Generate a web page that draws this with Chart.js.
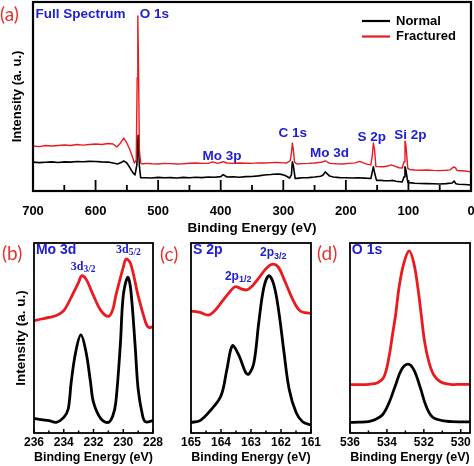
<!DOCTYPE html>
<html>
<head>
<meta charset="utf-8">
<script src="https://cdn.jsdelivr.net/npm/chart.js@4.4.1/dist/chart.umd.min.js"></script>
<style>
  body { margin: 0; background: #fff; }
  #wrap { position: relative; width: 474px; height: 466px; overflow: hidden; }
  canvas { position: absolute; }
</style>
</head>
<body>
<div id="wrap">
  <canvas id="survey" width="474" height="236" style="left:0;top:0"></canvas>
  <canvas id="mo3d" width="170" height="230" style="left:0;top:235px"></canvas>
  <canvas id="s2p" width="170" height="230" style="left:156px;top:235px"></canvas>
  <canvas id="o1s" width="160" height="230" style="left:314px;top:235px"></canvas>
</div>
<script>
// ---- (a) full survey spectrum ----
const surveyNormalEV = [700,690,680,670,660,650,640,630,620,610,600,590,580,570,565,560,555,550,545,540,537,534,532,530,528,520,510,500,490,480,470,460,450,440,430,420,410,400,396,390,380,370,360,350,340,330,320,310,303,297,290,287,285.5,284,281,275,270,260,250,240,236,233,230,226,220,210,200,190,180,170,160,157.5,156,154,151,145,140,130,125,120,110,107,105.5,104,101,95,90,80,70,60,50,40,30,27,24,20,10,0];
const surveyNormal = [15.3,15.0,15.2,15.4,15.1,15.4,15.3,15.6,15.5,15.7,15.6,15.4,15.3,14.7,14.3,14.9,15.9,14.8,12.2,9.5,8.5,13.8,29.5,13.5,7.1,7.0,6.9,7.2,7.0,7.1,6.9,7.2,7.0,7.3,7.1,7.4,7.3,7.6,8.7,7.4,7.5,7.3,7.6,7.7,8.0,8.5,8.7,9.0,8.8,8.2,6.9,8.5,15.5,13.5,6.6,6.8,7.0,7.1,7.4,7.8,8.6,10.1,9.2,7.9,7.4,7.1,7.0,6.9,7.0,6.8,6.6,10.5,12.8,9.5,5.6,5.7,5.5,5.4,5.6,5.2,4.8,7.5,12.8,11.0,4.5,4.3,4.1,4.0,3.9,3.8,3.7,3.9,4.2,5.3,3.8,3.6,3.4,3.2];
const surveyFracEV = [700,690,680,670,660,650,640,630,620,610,600,590,580,572,566,560,555,550,545,541,538,535,533.5,532.5,531.5,530,528,525,520,510,500,490,480,470,460,450,440,430,420,413,405,396,390,380,370,360,350,340,330,320,310,300,295,289,287,285.5,284,282,278,270,260,250,240,236,233,229,225,215,205,195,185,178,172,165,160,157.5,156,154,152,148,140,133,128,122,115,110,107,105.5,104,101,98,90,80,70,60,50,40,33,28,25,22,15,10,0];
const surveyFrac = [23.8,23.5,24.1,23.8,24.1,24.3,24.1,24.6,24.3,24.6,24.9,24.6,25.1,24.9,23.3,25.4,28.0,25.4,21.7,18.0,14.8,16.4,60,92.6,70,22,14.8,14.3,14.6,14.4,14.3,14.6,14.5,14.3,14.4,14.7,14.8,14.6,14.6,15.4,14.6,15.5,14.8,14.6,14.8,14.7,14.6,14.9,14.8,15.0,15.1,14.9,14.8,16.0,20,25.4,22.0,15.3,14.3,14.5,14.6,14.8,15.2,15.5,16.0,15.2,14.6,14.4,14.3,14.6,14.9,15.7,14.9,14.1,13.8,19.5,25.4,21.5,13.0,12.9,12.8,13.2,13.8,13.2,12.3,12.2,15.5,26.5,24.0,12.0,11.4,11.1,11.0,11.1,10.9,10.8,11.0,11.2,12.7,12.4,10.8,10.7,10.6,10.1];
const surveyTicks = [0,50,100,150,200,250,300,350,400,450,500,550,600,650,700];
const surveyLabels = [0,100,200,300,400,500,600,700];

// ---- (b) Mo 3d ----
const moNormalEV = [236,235.5,235,234.5,234,233.7,233.5,233.2,232.85,232.5,232.2,232,231.5,231,230.7,230.5,230.2,230,229.7,229.5,229.2,229,228.7,228.5,228];
const moNormal = [7.7,7.0,6.5,5.6,8.2,12.6,26.7,42.5,51.6,42.5,26.7,16.1,7.4,5.6,9.1,16.1,45.9,72.3,81.9,75.8,45.9,23.2,9.1,5.9,6.5];
const moFracEV = [236,235.5,235,234.5,234,233.5,233,232.8,232.5,232,231.5,231,230.7,230.5,230,229.8,229.5,229,228.5,228.3,228];
const moFrac = [59.1,60,60.8,61.8,64.4,71.4,79.3,82.8,81,72.3,64.4,61.4,65,72.3,87.2,91.6,89,72.3,58.3,55.6,56];
const moTicks = [228,229,230,231,232,233,234,235,236];
const moLabels = [228,230,232,234,236];

// ---- (c) S 2p ----
const sNormalEV = [165,164.7,164.36,164,163.8,163.62,163.4,163.18,163.07,162.9,162.74,162.57,162.4,162.23,162.07,161.9,161.73,161.5,161.28,161];
const sNormal = [5.6,6.5,11.7,19.6,33.7,45.9,40.7,31.9,31,37.2,58.3,76.7,82.8,77.5,63.5,42.5,23.2,10.9,5.9,4.2];
const sFracEV = [165,164.7,164.42,164.2,163.97,163.75,163.53,163.35,163.14,162.95,162.75,162.5,162.3,162.1,161.9,161.7,161.5,161.36,161.2,161];
const sFrac = [64.2,63.5,62.1,64.5,69.1,73.5,77,76,75.3,77.5,81.4,86.5,88.8,87.5,81,73.5,67,64.2,63.3,63];
const sTicks = [161,161.5,162,162.5,163,163.5,164,164.5,165];
const sLabels = [161,162,163,164,165];

// ---- (d) O 1s ----
const oNormalEV = [536,535.5,535,534.7,534.25,533.9,533.53,533.22,532.86,532.54,532.18,531.9,531.55,531,530.5,530,529.5];
const oNormal = [5.6,5.7,6.0,6.8,9.5,15.6,25.3,33.2,36.2,33.2,23.5,14.7,8.6,6.5,6.0,5.9,5.9];
const oFracEV = [536,535.5,535,534.5,534.16,533.9,533.7,533.53,533.35,533.11,532.8,532.54,532.32,532.14,531.96,531.73,531.46,531.1,530.56,530,529.5];
const oFrac = [25.5,25.5,25.6,26.5,29.6,39.3,51.6,62.1,76.2,88.4,95.8,89.3,76.2,62.1,48.1,37.5,30.5,27,25.6,25.6,25.6];
const oTicks = [530,531,532,533,534,535,536];
const oLabels = [530,532,534,536];

const SANS = '"Liberation Sans", Arial, sans-serif';
const SERIF = '"Liberation Serif", "Times New Roman", serif';
const BLUE = '#2020d2';
const RED = '#ea1a1f';
const TAG_RED = '#e8312f';

Chart.defaults.font.family = SANS;
Chart.defaults.color = '#000';

function pts(xs, ys) {
    return xs.map((x, i) => ({ x: x, y: ys[i] }));
}

function noPad(s) {
    s.paddingLeft = 0; s.paddingRight = 0; s.paddingTop = 0; s.paddingBottom = 0;
}

// height = fixed axis band under the plot (labels + title)
function xAxis(min, max, tickVals, labelVals, tickSize, titleSize, tickPad, height) {
    return {
        type: 'linear', reverse: true, min: min, max: max,
        afterBuildTicks: (s) => { s.ticks = tickVals.map(v => ({ value: v })); },
        afterFit: (s) => { s.height = height; noPad(s); },
        ticks: {
            autoSkip: false, maxRotation: 0, padding: tickPad, color: '#000',
            font: { size: tickSize, weight: 'bold' },
            callback: (v) => labelVals.includes(v) ? String(v) : ''
        },
        grid: { display: false, drawTicks: false },
        border: { display: false },
        title: { display: true, text: 'Binding Energy (eV)', color: '#000',
                 font: { size: titleSize, weight: 'bold' }, padding: { top: 0, bottom: 0 } }
    };
}

function yAxis(showTitle, size, pad, width) {
    return {
        min: 0, max: 100, display: showTitle,
        afterFit: (s) => { s.width = width; noPad(s); },
        ticks: { display: false },
        grid: { display: false, drawTicks: false },
        border: { display: false },
        title: { display: showTitle, text: 'Intensity (a. u.)', color: '#000',
                 font: { size: size, weight: 'bold' }, padding: pad }
    };
}

// frame, inner tick marks, panel tag, peak notes and legend
function overlay(cfg) {
    return {
        id: 'overlay',
        afterDatasetsDraw(chart) {
            const { ctx, chartArea: a, scales: { x, y } } = chart;
            ctx.save();
            ctx.strokeStyle = '#000';
            ctx.lineWidth = cfg.tickWidth;
            x.ticks.forEach(t => {
                const px = x.getPixelForValue(t.value);
                const len = t.label !== '' ? cfg.major : cfg.minor;
                ctx.beginPath();
                ctx.moveTo(px, a.bottom);
                ctx.lineTo(px, a.bottom - len);
                ctx.stroke();
            });
            ctx.lineWidth = cfg.frame;
            ctx.strokeRect(a.left, a.top, a.width, a.height);

            ctx.textBaseline = 'middle';
            ctx.textAlign = 'left';
            ctx.fillStyle = TAG_RED;
            ctx.font = '19px Lato';
            ctx.fillText(cfg.tag, cfg.tagX, cfg.tagY);

            cfg.notes.forEach(n => {
                let px = x.getPixelForValue(n.x);
                const py = y.getPixelForValue(n.y);
                ctx.fillStyle = BLUE;
                ctx.font = n.font;
                const w = ctx.measureText(n.text).width;
                let sw = 0;
                if (n.sub) {
                    ctx.font = n.subFont;
                    sw = ctx.measureText(n.sub).width;
                    ctx.font = n.font;
                }
                if (n.align === 'center') px -= (w + sw) / 2;
                ctx.fillText(n.text, px, py);
                if (n.sub) {
                    ctx.font = n.subFont;
                    ctx.fillText(n.sub, px + w, py + 3);
                }
            });

            if (cfg.legend) {
                const L = cfg.legend;
                ctx.font = 'bold 13px ' + SANS;
                chart.data.datasets.forEach((ds, i) => {
                    const ly = L.y + i * L.row;
                    ctx.strokeStyle = ds.borderColor;
                    ctx.lineWidth = L.width;
                    ctx.beginPath();
                    ctx.moveTo(L.x, ly);
                    ctx.lineTo(L.x + L.len, ly);
                    ctx.stroke();
                    ctx.fillStyle = '#000';
                    ctx.fillText(ds.label, L.x + L.len + L.gap, ly);
                });
            }
            ctx.restore();
        }
    };
}

function baseOptions(pad, xs, ys, tension) {
    return {
        responsive: false,
        animation: false,
        layout: { padding: pad },
        elements: { point: { radius: 0 }, line: { tension: tension, borderJoinStyle: 'round', borderCapStyle: 'round' } },
        plugins: { legend: { display: false }, tooltip: { enabled: false } },
        scales: { x: xs, y: ys }
    };
}

const topNote = 'bold 13.5px ' + SANS;
const botNote = 'bold 14px ' + SANS;

// (a)
new Chart(document.getElementById('survey'), {
    type: 'line',
    data: { datasets: [
        { label: 'Normal', data: pts(surveyNormalEV, surveyNormal), borderColor: '#000', borderWidth: 1.6, order: 1 },
        { label: 'Fractured', data: pts(surveyFracEV, surveyFrac), borderColor: RED, borderWidth: 1.4, order: 0 }
    ]},
    options: baseOptions({ left: 4, right: 3, top: 2, bottom: 0 },
        xAxis(0, 700, surveyTicks, surveyLabels, 13, 13.5, 13, 45),
        yAxis(true, 13, { top: 5.2, bottom: 8.2 }, 29), 0),
    plugins: [overlay({
        tickWidth: 1.8, major: 11, minor: 6, frame: 2.2,
        tag: '(a)', tagX: 0, tagY: 15,
        legend: { x: 362, y: 21, len: 28, gap: 6, row: 15.5, width: 2.2 },
        notes: [
            { x: 624, y: 93.7, text: 'Full Spectrum', font: topNote, align: 'center' },
            { x: 506, y: 93.7, text: 'O 1s', font: topNote, align: 'center' },
            { x: 398, y: 18.5, text: 'Mo 3p', font: topNote, align: 'center' },
            { x: 285, y: 30.7, text: 'C 1s', font: topNote, align: 'center' },
            { x: 226, y: 20.1, text: 'Mo 3d', font: topNote, align: 'center' },
            { x: 158.6, y: 28.6, text: 'S 2p', font: topNote, align: 'center' },
            { x: 97, y: 29.6, text: 'Si 2p', font: topNote, align: 'center' }
        ]
    })]
});

// (b)
new Chart(document.getElementById('mo3d'), {
    type: 'line',
    data: { datasets: [
        { label: 'Normal', data: pts(moNormalEV, moNormal), borderColor: '#000', borderWidth: 2.8, order: 1 },
        { label: 'Fractured', data: pts(moFracEV, moFrac), borderColor: RED, borderWidth: 2.8, order: 0 }
    ]},
    options: baseOptions({ left: 5, right: 17, top: 8, bottom: 0 },
        xAxis(228, 236, moTicks, moLabels, 12, 12.5, 2, 32),
        yAxis(true, 13.5, { top: 8.4, bottom: 4.4 }, 29), 0.35),
    plugins: [overlay({
        tickWidth: 1.5, major: 4, minor: 2.5, frame: 1.8,
        tag: '(b)', tagX: 2, tagY: 19,
        notes: [
            { x: 235.87, y: 96.3, text: 'Mo 3d', font: botNote },
            { x: 233.53, y: 87.5, text: '3d', sub: '3/2', font: 'bold 12px ' + SERIF, subFont: 'bold 9.5px ' + SERIF },
            { x: 230.49, y: 96.3, text: '3d', sub: '5/2', font: 'bold 12px ' + SERIF, subFont: 'bold 9.5px ' + SERIF }
        ]
    })]
});

// (c)
new Chart(document.getElementById('s2p'), {
    type: 'line',
    data: { datasets: [
        { label: 'Normal', data: pts(sNormalEV, sNormal), borderColor: '#000', borderWidth: 2.8, order: 1 },
        { label: 'Fractured', data: pts(sFracEV, sFrac), borderColor: RED, borderWidth: 2.8, order: 0 }
    ]},
    options: baseOptions({ left: 35, right: 15, top: 8, bottom: 0 },
        xAxis(161, 165, sTicks, sLabels, 12, 12.5, 2, 32),
        yAxis(false, 13.5, 0, 0), 0.35),
    plugins: [overlay({
        tickWidth: 1.5, major: 4, minor: 2.5, frame: 1.8,
        tag: '(c)', tagX: 4, tagY: 20,
        notes: [
            { x: 164.93, y: 96.3, text: 'S 2p', font: botNote },
            { x: 163.87, y: 82.3, text: '2p', sub: '1/2', font: 'bold 12px ' + SANS, subFont: 'bold 9px ' + SANS },
            { x: 162.7, y: 94.7, text: '2p', sub: '3/2', font: 'bold 12px ' + SANS, subFont: 'bold 9px ' + SANS }
        ]
    })]
});

// (d)
new Chart(document.getElementById('o1s'), {
    type: 'line',
    data: { datasets: [
        { label: 'Normal', data: pts(oNormalEV, oNormal), borderColor: '#000', borderWidth: 2.8, order: 1 },
        { label: 'Fractured', data: pts(oFracEV, oFrac), borderColor: RED, borderWidth: 2.8, order: 0 }
    ]},
    options: baseOptions({ left: 36, right: 4, top: 8, bottom: 0 },
        xAxis(529.5, 536, oTicks, oLabels, 12, 12.5, 2, 32),
        yAxis(false, 13.5, 0, 0), 0.35),
    plugins: [overlay({
        tickWidth: 1.5, major: 4, minor: 2.5, frame: 1.8,
        tag: '(d)', tagX: 3, tagY: 19,
        notes: [
            { x: 535.9, y: 96.3, text: 'O 1s', font: botNote }
        ]
    })]
});
</script>
</body>
</html>
